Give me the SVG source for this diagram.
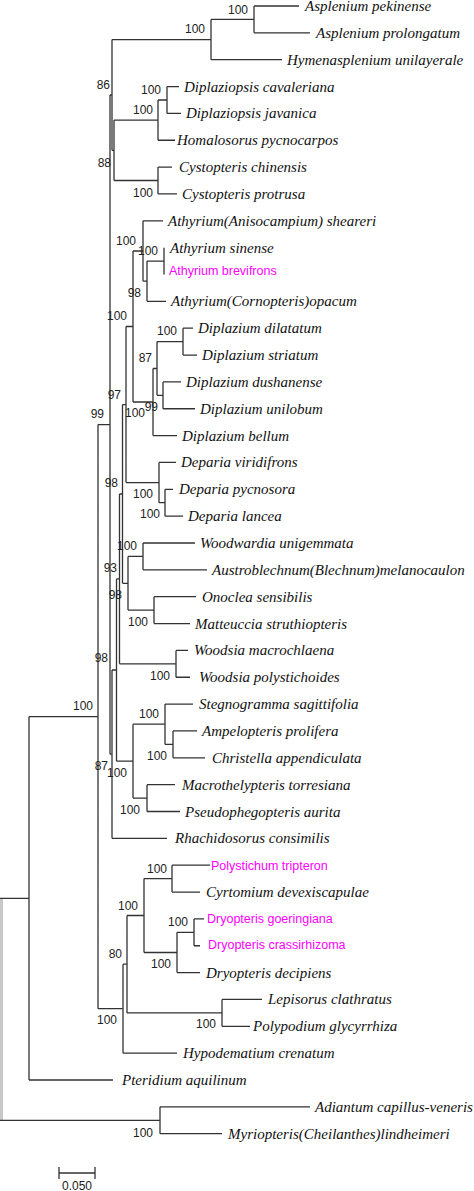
<svg xmlns="http://www.w3.org/2000/svg" width="474" height="1191" viewBox="0 0 474 1191">
<style>
.t{font-family:"Liberation Serif","Times New Roman",serif;font-style:italic;font-size:15px;fill:#111}
.m{font-family:"Liberation Sans",Arial,sans-serif;font-size:12.5px;fill:#f0f}
.b{font-family:"Liberation Sans",Arial,sans-serif;font-size:12px;fill:#222;text-anchor:end}
.s{font-family:"Liberation Sans",Arial,sans-serif;font-size:12px;fill:#222;text-anchor:middle}
.e{fill:none;stroke:#333;stroke-width:1.3}
</style>
<rect width="474" height="1191" fill="#fff"/>
<g id="connectors">
<path d="M1.5,898.3V1120.3" fill="none" stroke="#c8c8c8" stroke-width="3"/>
<path class="e" d="M0,898.3H29M0,1120.3H160
M29,716.6V1080M29,716.6H98M29,1080H113
M160,1106.85V1133.7M160,1106.85H310M160,1133.7H222
M98,424.6V1008.7M98,424.6H110M98,1008.7H123
M123,964.2V1053.15M123,964.2H127M123,1053.15H177
M127,915.5V1012.9M127,915.5H144M127,1012.9H222
M222,999.45V1026.3M222,999.45H262M222,1026.3H250
M144,878.6V952.5M144,878.6H172M144,952.5H177
M172,865.2V892.05M172,865.2H210M172,892.05H200
M177,932.3V972.6M177,932.3H194M177,972.6H200
M194,918.9V945.75M194,918.9H204M194,945.75H200
M110,95V754.2M110,95H112M110,754.2H112
M112,39.6V150.3M112,39.6H211M112,150.3H114
M211,19.4V59.7M211,19.4H254M211,59.7H282
M254,6V32.85M254,6H299M254,32.85H310
M114,120.1V180.5M114,120.1H158M114,180.5H158
M158,100V140.25M158,100H167M158,140.25H175
M167,86.55V113.4M167,86.55H179M167,113.4H181
M158,167.1V193.95M158,167.1H172M158,193.95H177
M112,670V838.35M112,670H116.5M112,838.35H167
M116.5,578.9V761.2M116.5,578.9H119.5M116.5,761.2H133
M119.5,494V663.8M119.5,494H122.5M119.5,663.8H176
M122.5,404.6V583.3M122.5,404.6H126M122.5,583.3H128
M126,326.5V482.6M126,326.5H133M126,482.6H159
M133,251V402M133,251H143M133,402H153
M143,220.8V281.2M143,220.8H163M143,281.2H147
M147,261.1V301.35M147,261.1H164M147,301.35H166
M164,247.65V274.5
M153,368.5V435.6M153,368.5H157M153,435.6H177
M157,341.6V395.3M157,341.6H183M157,395.3H163
M183,328.2V355.05M183,328.2H193M183,355.05H197
M163,381.9V408.75M163,381.9H181M163,408.75H195
M159,462.45V502.7M159,462.45H176M159,502.7H165
M165,489.3V516.15M165,489.3H173M165,516.15H183
M128,556.4V610.1M128,556.4H143M128,610.1H154
M143,543V569.85M143,543H195M143,569.85H207
M154,596.7V623.55M154,596.7H196M154,623.55H190
M176,650.4V677.25M176,650.4H188M176,677.25H190
M133,724.2V798.1M133,724.2H165M133,798.1H147
M165,704.1V744.4M165,704.1H193M165,744.4H173
M173,730.95V757.8M173,730.95H197M173,757.8H205
M147,784.65V811.5M147,784.65H175M147,811.5H180"/>
</g>
<g id="leaves">
<g id="n1"><text class="t" x="305" y="11">Asplenium pekinense</text></g>
<g id="n2"><text class="t" x="316" y="37.8">Asplenium prolongatum</text></g>
<g id="n3"><text class="t" x="287" y="64.7">Hymenasplenium unilayerale</text></g>
<g id="n4"><text class="t" x="184" y="91.5">Diplaziopsis cavaleriana</text></g>
<g id="n5"><text class="t" x="186" y="118.4">Diplaziopsis javanica</text></g>
<g id="n6"><text class="t" x="177" y="145.2">Homalosorus pycnocarpos</text></g>
<g id="n7"><text class="t" x="179" y="172.1">Cystopteris chinensis</text></g>
<g id="n8"><text class="t" x="182" y="198.9">Cystopteris protrusa</text></g>
<g id="n9"><text class="t" x="168" y="225.8">Athyrium(Anisocampium) sheareri</text></g>
<g id="n10"><text class="t" x="170" y="252.6">Athyrium sinense</text></g>
<g id="n11"><text class="m" x="169" y="274.5">Athyrium brevifrons</text></g>
<g id="n12"><text class="t" x="171" y="306.3">Athyrium(Cornopteris)opacum</text></g>
<g id="n13"><text class="t" x="198" y="333.2">Diplazium dilatatum</text></g>
<g id="n14"><text class="t" x="202" y="360">Diplazium striatum</text></g>
<g id="n15"><text class="t" x="186" y="386.9">Diplazium dushanense</text></g>
<g id="n16"><text class="t" x="200" y="413.7">Diplazium unilobum</text></g>
<g id="n17"><text class="t" x="182" y="440.6">Diplazium bellum</text></g>
<g id="n18"><text class="t" x="181" y="467.4">Deparia viridifrons</text></g>
<g id="n19"><text class="t" x="179" y="494.3">Deparia pycnosora</text></g>
<g id="n20"><text class="t" x="188" y="521.1">Deparia lancea</text></g>
<g id="n21"><text class="t" x="200" y="548">Woodwardia unigemmata</text></g>
<g id="n22"><text class="t" x="212" y="574.8">Austroblechnum(Blechnum)melanocaulon</text></g>
<g id="n23"><text class="t" x="202" y="601.7">Onoclea sensibilis</text></g>
<g id="n24"><text class="t" x="195" y="628.5">Matteuccia struthiopteris</text></g>
<g id="n25"><text class="t" x="194" y="655.4">Woodsia macrochlaena</text></g>
<g id="n26"><text class="t" x="199" y="682.2">Woodsia polystichoides</text></g>
<g id="n27"><text class="t" x="199" y="709.1">Stegnogramma sagittifolia</text></g>
<g id="n28"><text class="t" x="202" y="735.9">Ampelopteris prolifera</text></g>
<g id="n29"><text class="t" x="212" y="762.8">Christella appendiculata</text></g>
<g id="n30"><text class="t" x="182" y="789.6">Macrothelypteris torresiana</text></g>
<g id="n31"><text class="t" x="185" y="816.5">Pseudophegopteris aurita</text></g>
<g id="n32"><text class="t" x="175" y="843.3">Rhachidosorus consimilis</text></g>
<g id="n33"><text class="m" x="211" y="869.5">Polystichum tripteron</text></g>
<g id="n34"><text class="t" x="206" y="897">Cyrtomium devexiscapulae</text></g>
<g id="n35"><text class="m" x="207" y="923.3">Dryopteris goeringiana</text></g>
<g id="n36"><text class="m" x="208" y="948.5">Dryopteris crassirhizoma</text></g>
<g id="n37"><text class="t" x="206" y="977.6">Dryopteris decipiens</text></g>
<g id="n38"><text class="t" x="268" y="1004.4">Lepisorus clathratus</text></g>
<g id="n39"><text class="t" x="253" y="1031.3">Polypodium glycyrrhiza</text></g>
<g id="n40"><text class="t" x="183" y="1058.1">Hypodematium crenatum</text></g>
<g id="n41"><text class="t" x="122" y="1085">Pteridium aquilinum</text></g>
<g id="n42"><text class="t" x="315" y="1111.8">Adiantum capillus-veneris</text></g>
<g id="n43"><text class="t" x="228" y="1138.7">Myriopteris(Cheilanthes)lindheimeri</text></g>
</g>
<g id="support">
<g id="b1"><text class="b" x="248" y="14.3">100</text></g>
<g id="b2"><text class="b" x="205" y="33.3">100</text></g>
<g id="b3"><text class="b" x="110" y="89.3">86</text></g>
<g id="b4"><text class="b" x="161" y="94.3">100</text></g>
<g id="b5"><text class="b" x="153" y="114.3">100</text></g>
<g id="b6"><text class="b" x="111" y="167.3">88</text></g>
<g id="b7"><text class="b" x="153" y="197.3">100</text></g>
<g id="b8"><text class="b" x="136" y="245.3">100</text></g>
<g id="b9"><text class="b" x="158" y="255.3">100</text></g>
<g id="b10"><text class="b" x="141" y="297.3">98</text></g>
<g id="b11"><text class="b" x="127" y="320.3">100</text></g>
<g id="b12"><text class="b" x="177" y="335.3">100</text></g>
<g id="b13"><text class="b" x="152" y="362.3">87</text></g>
<g id="b14"><text class="b" x="121" y="399.3">97</text></g>
<g id="b15"><text class="b" x="158" y="411.3">99</text></g>
<g id="b16"><text class="b" x="145" y="417.3">100</text></g>
<g id="b17"><text class="b" x="104" y="418.3">99</text></g>
<g id="b18"><text class="b" x="118" y="487.3">98</text></g>
<g id="b19"><text class="b" x="153" y="498.3">100</text></g>
<g id="b20"><text class="b" x="160" y="518.3">100</text></g>
<g id="b21"><text class="b" x="137" y="550.3">100</text></g>
<g id="b22"><text class="b" x="117" y="572.3">93</text></g>
<g id="b23"><text class="b" x="122" y="599.3">98</text></g>
<g id="b24"><text class="b" x="148" y="626.3">100</text></g>
<g id="b25"><text class="b" x="108" y="662.3">98</text></g>
<g id="b26"><text class="b" x="170" y="680.3">100</text></g>
<g id="b27"><text class="b" x="93" y="710.3">100</text></g>
<g id="b28"><text class="b" x="159" y="718.3">100</text></g>
<g id="b29"><text class="b" x="167" y="760.3">100</text></g>
<g id="b30"><text class="b" x="108" y="770.3">87</text></g>
<g id="b31"><text class="b" x="127" y="777.3">100</text></g>
<g id="b32"><text class="b" x="140" y="814.3">100</text></g>
<g id="b33"><text class="b" x="167" y="873.3">100</text></g>
<g id="b34"><text class="b" x="138" y="910.3">100</text></g>
<g id="b35"><text class="b" x="188" y="926.3">100</text></g>
<g id="b36"><text class="b" x="122" y="958.3">80</text></g>
<g id="b37"><text class="b" x="171" y="968.3">100</text></g>
<g id="b38"><text class="b" x="117" y="1024.3">100</text></g>
<g id="b39"><text class="b" x="216" y="1028.3">100</text></g>
<g id="b40"><text class="b" x="153" y="1137.3">100</text></g>
</g>
<g id="scale">
<path class="e" d="M59,1173H95M59,1167V1179M95,1167V1179"/>
<text class="s" x="77" y="1190">0.050</text>
</g>
</svg>
